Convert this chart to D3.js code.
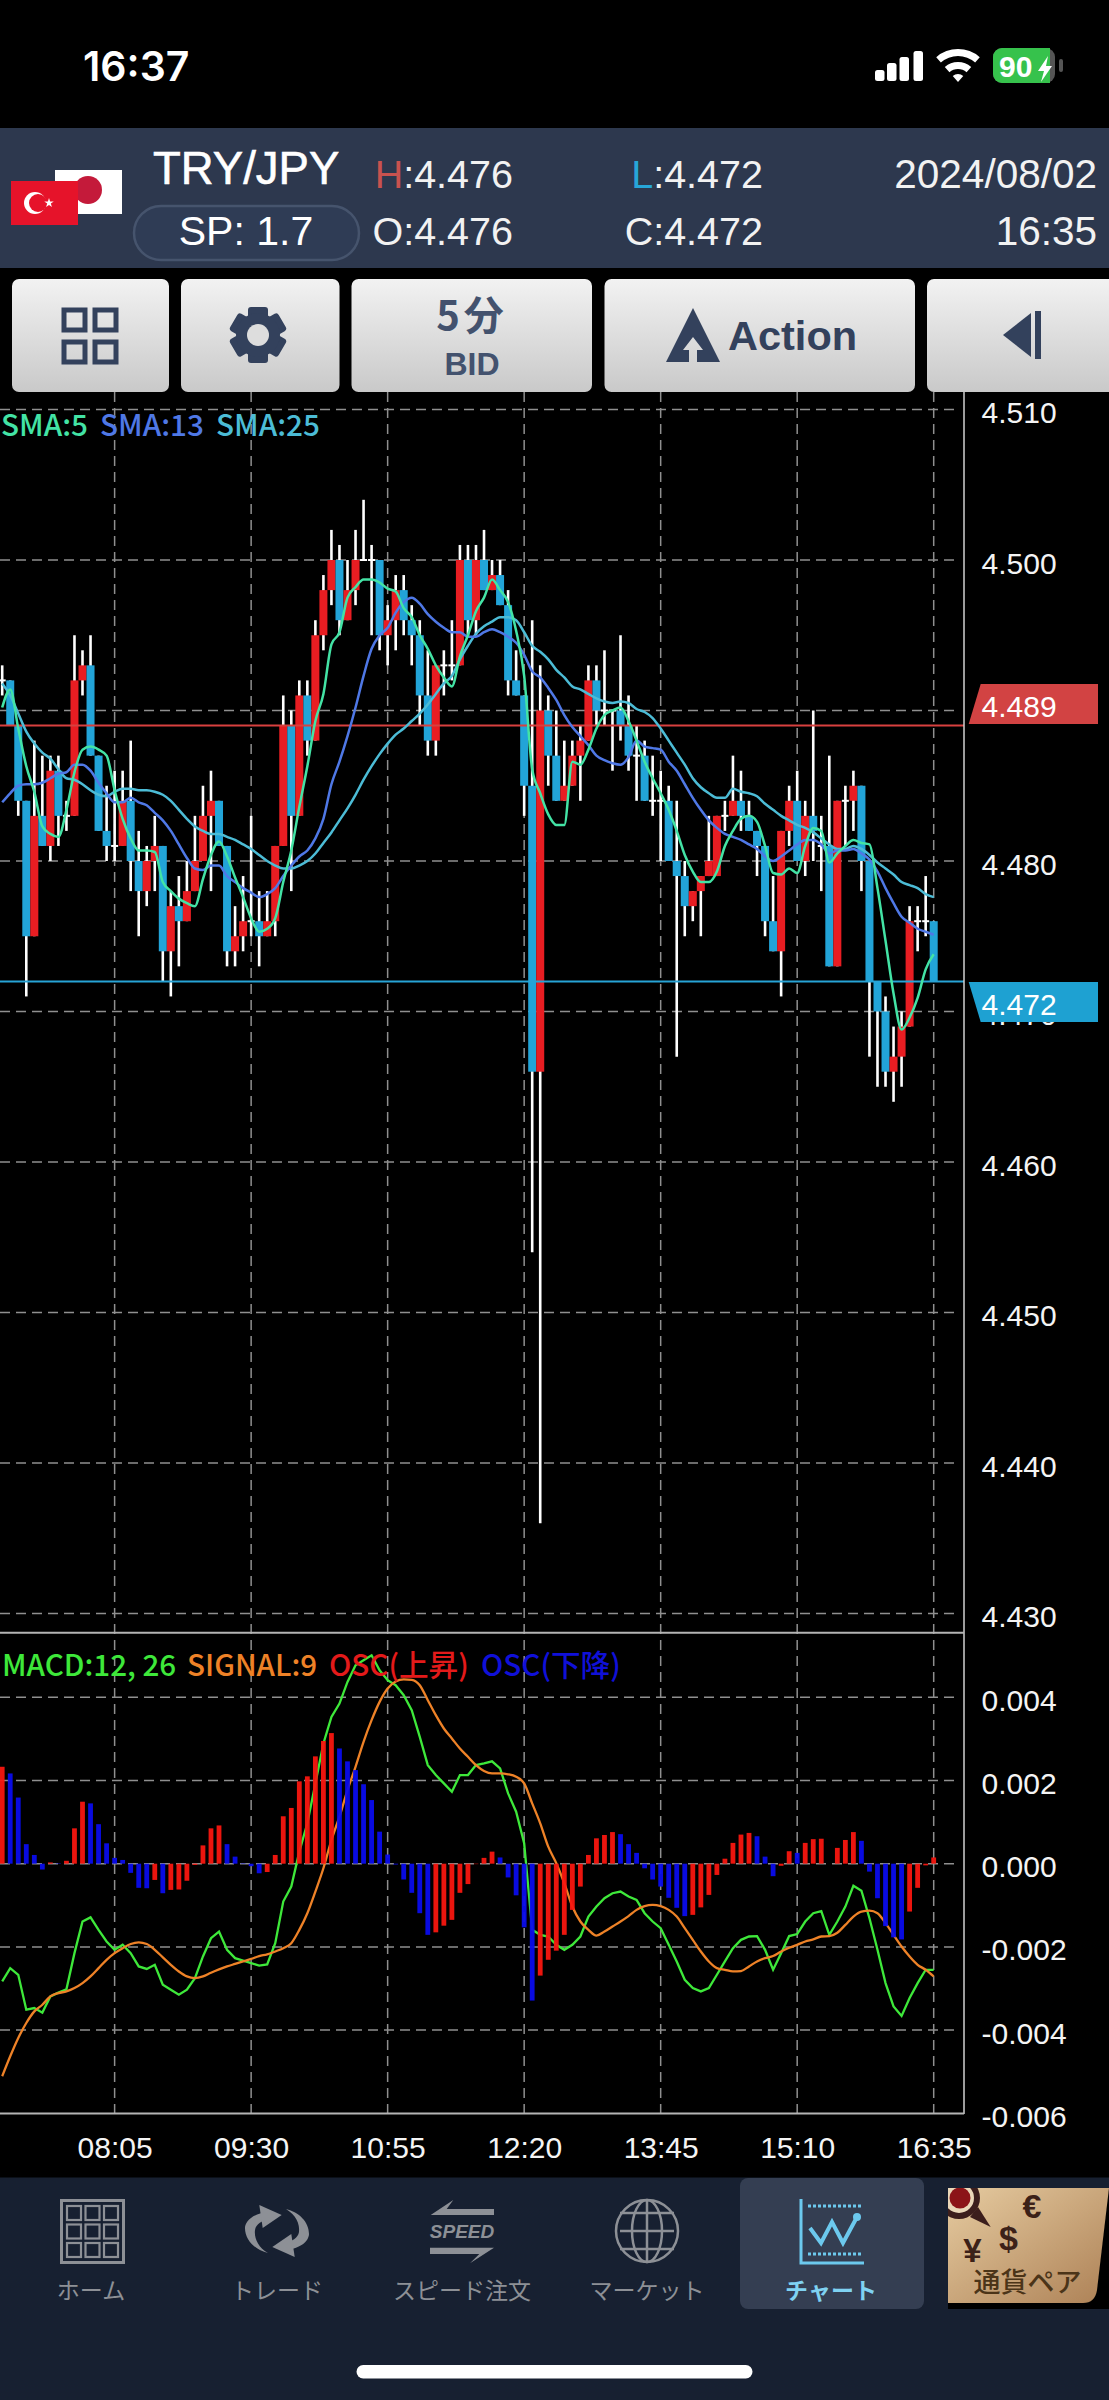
<!DOCTYPE html>
<html>
<head>
<meta charset="utf-8">
<script src="https://cdn.jsdelivr.net/npm/d3@7"></script>
<style>
html, body { margin: 0; padding: 0; background: #000; }
svg { display: block; }
text { font-family: "Liberation Sans", Arial, sans-serif; }
.cjk { font-family: "Noto Sans CJK JP", sans-serif; }
</style>
</head>
<body>
<script>
// 5 minute candles, oldest first
const candleOpen = [
  4.492,4.492,4.489,4.484,4.475,4.483,4.481,4.486,4.483,4.483,
  4.492,4.493,4.487,4.482,4.481,4.481,4.484,4.480,4.478,4.480,
  4.481,4.474,4.477,4.476,4.478,4.480,4.483,4.484,4.481,4.474,
  4.475,4.476,4.476,4.475,4.476,4.481,4.489,4.483,4.491,4.488,
  4.495,4.498,4.500,4.496,4.498,4.500,4.500,4.500,4.495,4.496,
  4.498,4.496,4.495,4.491,4.488,4.493,4.493,4.493,4.500,4.496,
  4.500,4.498,4.499,4.497,4.492,4.491,4.485,4.466,4.490,4.487,
  4.484,4.485,4.487,4.488,4.492,4.490,4.490,4.490,4.489,4.487,
  4.487,4.484,4.484,4.484,4.480,4.479,4.477,4.478,4.479,4.479,
  4.483,4.483,4.484,4.483,4.482,4.481,4.476,4.474,4.482,4.484,
  4.480,4.483,4.481,4.481,4.473,4.484,4.484,4.485,4.480,4.472,
  4.470,4.466,4.467,4.469,4.476,4.476,4.476
];
const candleClose = [
  4.492,4.489,4.484,4.475,4.483,4.481,4.486,4.483,4.483,4.492,
  4.493,4.487,4.482,4.481,4.481,4.484,4.480,4.478,4.480,4.481,
  4.474,4.477,4.476,4.478,4.480,4.483,4.484,4.481,4.474,4.475,
  4.476,4.476,4.475,4.476,4.481,4.489,4.483,4.491,4.488,4.495,
  4.498,4.500,4.496,4.498,4.500,4.500,4.500,4.495,4.496,4.498,
  4.496,4.495,4.491,4.488,4.493,4.493,4.493,4.500,4.496,4.500,
  4.498,4.499,4.497,4.492,4.491,4.485,4.466,4.490,4.487,4.484,
  4.485,4.487,4.488,4.492,4.490,4.490,4.490,4.489,4.487,4.487,
  4.484,4.484,4.484,4.480,4.479,4.477,4.478,4.479,4.480,4.483,
  4.483,4.484,4.483,4.482,4.481,4.476,4.474,4.482,4.484,4.480,
  4.483,4.482,4.481,4.473,4.484,4.484,4.485,4.480,4.472,4.470,
  4.466,4.467,4.469,4.476,4.476,4.476,4.472
];
const candleHigh = [
  4.493,4.492,4.489,4.484,4.488,4.487,4.487,4.487,4.484,4.495,
  4.494,4.495,4.487,4.485,4.486,4.486,4.488,4.482,4.481,4.483,
  4.481,4.478,4.479,4.480,4.483,4.485,4.486,4.484,4.481,4.477,
  4.479,4.483,4.478,4.478,4.481,4.491,4.490,4.492,4.492,4.496,
  4.499,4.502,4.501,4.500,4.502,4.504,4.501,4.500,4.497,4.499,
  4.499,4.497,4.496,4.494,4.493,4.494,4.496,4.501,4.501,4.501,
  4.502,4.500,4.500,4.498,4.494,4.491,4.496,4.493,4.491,4.490,
  4.488,4.488,4.489,4.493,4.493,4.494,4.490,4.495,4.491,4.489,
  4.488,4.487,4.486,4.485,4.484,4.480,4.478,4.479,4.483,4.483,
  4.484,4.487,4.486,4.484,4.482,4.481,4.479,4.482,4.485,4.486,
  4.484,4.490,4.483,4.487,4.484,4.485,4.486,4.485,4.480,4.472,
  4.471,4.469,4.470,4.477,4.477,4.479,4.476
];
const candleLow = [
  4.491,4.489,4.483,4.471,4.475,4.481,4.480,4.481,4.482,4.483,
  4.491,4.487,4.482,4.480,4.480,4.481,4.478,4.475,4.477,4.478,
  4.472,4.471,4.473,4.476,4.478,4.480,4.478,4.481,4.473,4.473,
  4.474,4.475,4.473,4.475,4.475,4.481,4.478,4.483,4.487,4.488,
  4.494,4.497,4.495,4.496,4.497,4.500,4.495,4.494,4.493,4.494,
  4.495,4.493,4.489,4.487,4.487,4.491,4.492,4.493,4.495,4.495,
  4.498,4.498,4.497,4.491,4.491,4.483,4.454,4.436,4.485,4.484,
  4.484,4.485,4.484,4.488,4.489,4.489,4.486,4.488,4.486,4.484,
  4.484,4.483,4.480,4.480,4.467,4.475,4.476,4.475,4.479,4.479,
  4.482,4.483,4.482,4.482,4.479,4.475,4.474,4.471,4.481,4.480,
  4.479,4.480,4.478,4.473,4.473,4.481,4.482,4.478,4.467,4.465,
  4.465,4.464,4.465,4.469,4.474,4.475,4.472
];

const sma5 = [
  4.4902,4.4914,4.4888,4.4863,4.4846,4.4823,4.4818,4.4816,4.4834,4.4859,
  4.4874,4.4876,4.4874,4.4870,4.4847,4.4828,4.4815,4.4807,4.4807,4.4806,
  4.4786,4.4780,4.4775,4.4772,4.4770,4.4788,4.4804,4.4813,4.4803,4.4789,
  4.4776,4.4762,4.4753,4.4755,4.4762,4.4786,4.4807,4.4836,4.4863,4.4893,
  4.4911,4.4944,4.4952,4.4975,4.4982,4.4987,4.4987,4.4985,4.4981,4.4979,
  4.4968,4.4962,4.4950,4.4941,4.4930,4.4922,4.4916,4.4936,4.4950,4.4966,
  4.4975,4.4987,4.4980,4.4972,4.4953,4.4923,4.4861,4.4845,4.4831,4.4824,
  4.4824,4.4866,4.4864,4.4874,4.4888,4.4897,4.4900,4.4902,4.4893,4.4880,
  4.4866,4.4855,4.4845,4.4834,4.4820,4.4804,4.4793,4.4786,4.4786,4.4793,
  4.4810,4.4820,4.4828,4.4830,4.4826,4.4810,4.4792,4.4791,4.4795,4.4792,
  4.4810,4.4822,4.4820,4.4799,4.4805,4.4810,4.4814,4.4812,4.4811,4.4782,
  4.4747,4.4712,4.4688,4.4696,4.4709,4.4728,4.4738
];
const sma13 = [
  4.4839,4.4845,4.4850,4.4851,4.4851,4.4852,4.4855,4.4858,4.4859,4.4864,
  4.4864,4.4860,4.4852,4.4845,4.4839,4.4839,4.4842,4.4839,4.4837,4.4832,
  4.4827,4.4820,4.4811,4.4802,4.4795,4.4794,4.4797,4.4797,4.4790,4.4786,
  4.4782,4.4779,4.4776,4.4778,4.4782,4.4790,4.4797,4.4803,4.4807,4.4815,
  4.4828,4.4851,4.4866,4.4883,4.4902,4.4923,4.4941,4.4950,4.4955,4.4965,
  4.4972,4.4975,4.4971,4.4964,4.4959,4.4955,4.4952,4.4952,4.4949,4.4949,
  4.4952,4.4954,4.4952,4.4949,4.4945,4.4937,4.4926,4.4922,4.4915,4.4907,
  4.4897,4.4889,4.4883,4.4877,4.4870,4.4867,4.4865,4.4864,4.4869,4.4880,
  4.4876,4.4875,4.4874,4.4866,4.4860,4.4851,4.4842,4.4834,4.4827,4.4822,
  4.4818,4.4816,4.4814,4.4811,4.4808,4.4803,4.4800,4.4803,4.4807,4.4811,
  4.4814,4.4814,4.4811,4.4805,4.4807,4.4807,4.4808,4.4805,4.4801,4.4793,
  4.4782,4.4772,4.4763,4.4759,4.4755,4.4753,4.4751
];
const sma25 = [
  4.4918,4.4910,4.4898,4.4886,4.4878,4.4872,4.4868,4.4861,4.4855,4.4854,
  4.4851,4.4847,4.4844,4.4843,4.4846,4.4848,4.4848,4.4847,4.4847,4.4846,
  4.4844,4.4840,4.4834,4.4828,4.4823,4.4820,4.4818,4.4818,4.4816,4.4814,
  4.4811,4.4808,4.4804,4.4800,4.4797,4.4795,4.4795,4.4797,4.4800,4.4805,
  4.4812,4.4819,4.4827,4.4835,4.4844,4.4854,4.4863,4.4871,4.4878,4.4884,
  4.4888,4.4893,4.4898,4.4904,4.4911,4.4918,4.4923,4.4934,4.4943,4.4951,
  4.4956,4.4959,4.4962,4.4962,4.4960,4.4952,4.4943,4.4939,4.4934,4.4927,
  4.4922,4.4916,4.4914,4.4911,4.4908,4.4906,4.4905,4.4906,4.4905,4.4901,
  4.4899,4.4895,4.4888,4.4880,4.4872,4.4864,4.4855,4.4849,4.4845,4.4842,
  4.4842,4.4848,4.4846,4.4845,4.4843,4.4838,4.4834,4.4830,4.4827,4.4824,
  4.4822,4.4819,4.4815,4.4811,4.4808,4.4808,4.4810,4.4808,4.4804,4.4799,
  4.4795,4.4791,4.4786,4.4784,4.4782,4.4778,4.4776
];

const macdLine = [
  -0.00283,-0.00251,-0.00267,-0.00351,-0.00347,-0.00358,-0.00319,-0.00310,-0.00302,-0.00215,
  -0.00139,-0.00129,-0.00159,-0.00187,-0.00207,-0.00195,-0.00215,-0.00247,-0.00253,-0.00243,
  -0.00291,-0.00303,-0.00315,-0.00303,-0.00275,-0.00223,-0.00179,-0.00163,-0.00207,-0.00227,
  -0.00233,-0.00239,-0.00245,-0.00242,-0.00191,-0.00091,-0.00055,0.00029,0.00097,0.00193,
  0.00289,0.00353,0.00385,0.00437,0.00477,0.00489,0.00501,0.00465,0.00441,0.00429,
  0.00405,0.00369,0.00305,0.00237,0.00213,0.00193,0.00173,0.00213,0.00213,0.00237,
  0.00241,0.00246,0.00229,0.00169,0.00125,0.00049,-0.00159,-0.00171,-0.00175,-0.00195,
  -0.00207,-0.00195,-0.00175,-0.00127,-0.00103,-0.00083,-0.00071,-0.00067,-0.00079,-0.00087,
  -0.00119,-0.00139,-0.00155,-0.00195,-0.00235,-0.00279,-0.00299,-0.00307,-0.00299,-0.00267,
  -0.00235,-0.00203,-0.00183,-0.00175,-0.00174,-0.00207,-0.00255,-0.00215,-0.00174,-0.00169,
  -0.00139,-0.00119,-0.00114,-0.00171,-0.00139,-0.00103,-0.00053,-0.00065,-0.00131,-0.00207,
  -0.00287,-0.00343,-0.00366,-0.00323,-0.00287,-0.00255,-0.00255
];
const signalLine = [
  -0.00511,-0.00463,-0.00419,-0.00383,-0.00355,-0.00339,-0.00319,-0.00311,-0.00307,-0.00299,
  -0.00287,-0.00271,-0.00251,-0.00231,-0.00215,-0.00203,-0.00193,-0.00189,-0.00193,-0.00207,
  -0.00225,-0.00243,-0.00259,-0.00271,-0.00275,-0.00271,-0.00262,-0.00254,-0.00247,-0.00241,
  -0.00235,-0.00229,-0.00222,-0.00218,-0.00211,-0.00203,-0.00191,-0.00159,-0.00119,-0.00067,
  -0.00011,0.00057,0.00113,0.00177,0.00233,0.00293,0.00345,0.00389,0.00421,0.00438,
  0.00443,0.00442,0.00429,0.00393,0.00357,0.00325,0.00301,0.00277,0.00257,0.00237,
  0.00223,0.00217,0.00217,0.00215,0.00209,0.00193,0.00145,0.00097,0.00041,0.00001,
  -0.00047,-0.00103,-0.00139,-0.00159,-0.00173,-0.00163,-0.00151,-0.00139,-0.00126,-0.00111,
  -0.00102,-0.00099,-0.00102,-0.00111,-0.00127,-0.00155,-0.00183,-0.00211,-0.00235,-0.00251,
  -0.00255,-0.00259,-0.00258,-0.00247,-0.00235,-0.00227,-0.00222,-0.00211,-0.00202,-0.00195,
  -0.00187,-0.00182,-0.00175,-0.00174,-0.00166,-0.00147,-0.00127,-0.00115,-0.00113,-0.00119,
  -0.00143,-0.00171,-0.00199,-0.00223,-0.00243,-0.00255,-0.00271
];
const oscValues = [
  0.00233,0.00217,0.00159,0.00047,0.00021,-0.00014,0.00003,0.00001,0.00007,0.00085,
  0.00149,0.00145,0.00095,0.00049,0.00014,0.00009,-0.00022,-0.00058,-0.00059,-0.00039,
  -0.00071,-0.00063,-0.00062,-0.00041,-0.00003,0.00044,0.00085,0.00092,0.00047,0.00017,
  0.00001,-0.00006,-0.00023,-0.00020,0.00021,0.00114,0.00134,0.00198,0.00210,0.00258,
  0.00295,0.00314,0.00277,0.00246,0.00225,0.00191,0.00153,0.00077,0.00022,-0.00002,
  -0.00038,-0.00070,-0.00119,-0.00171,-0.00165,-0.00149,-0.00135,-0.00070,-0.00049,-0.00001,
  0.00014,0.00029,0.00015,-0.00033,-0.00076,-0.00153,-0.00329,-0.00269,-0.00231,-0.00209,
  -0.00171,-0.00111,-0.00055,0.00021,0.00061,0.00069,0.00076,0.00071,0.00047,0.00026,
  -0.00011,-0.00038,-0.00055,-0.00082,-0.00106,-0.00126,-0.00123,-0.00105,-0.00075,-0.00027,
  0.00012,0.00050,0.00070,0.00074,0.00066,0.00017,-0.00030,-0.00005,0.00030,0.00026,
  0.00050,0.00059,0.00060,0.00000,0.00038,0.00057,0.00076,0.00055,-0.00019,-0.00083,
  -0.00150,-0.00177,-0.00182,-0.00115,-0.00058,-0.00004,0.00015
];

const priceTicks = [4.51, 4.50, 4.49, 4.48, 4.47, 4.46, 4.45, 4.44, 4.43];
const macdTicks = [0.004, 0.002, 0, -0.002, -0.004, -0.006];
const timeIndex = [14, 31, 48, 65, 82, 99, 116];
const timeLabels = ["08:05", "09:30", "10:55", "12:20", "13:45", "15:10", "16:35"];
const lastHigh = 4.489, lastLow = 4.472;

const candleRed = "#e81d22", candleBlue = "#22a4d8";
const sma5Color = "#43e3a5", sma13Color = "#4f78e6", sma25Color = "#4cbcd6";
const macdColor = "#3ee83a", signalColor = "#ee8227";
const oscRed = "#f8160f", oscBlue = "#0a0cec";

const width = 1109, height = 2400;
const plotRight = 964;
const fmt3 = d => d3.format(".3f")(d).replace("−", "-");

let svg = d3.select("body").append("svg")
  .attr("width", width).attr("height", height)
  .attr("viewBox", [0, 0, width, height]);
svg.append("rect").attr("width", width).attr("height", height).attr("fill", "#000");

let x = d3.scaleLinear().domain([0, 116]).range([2.2, 933.7]);
let y = d3.scaleLinear().domain([4.50, 4.48]).range([560, 861]);
let yMacd = d3.scaleLinear().domain([0.004, -0.006]).range([1697.3, 2113.3]);

// ---- grid
let grid = svg.append("g").attr("stroke", "#8f8f8f").attr("stroke-width", 1.5).attr("stroke-dasharray", "10 6");
grid.selectAll(".gv").data(timeIndex).join("line")
  .attr("x1", d => x(d)).attr("x2", d => x(d)).attr("y1", 392).attr("y2", 2113);
grid.selectAll(".gp").data(priceTicks).join("line")
  .attr("x1", 0).attr("x2", 957).attr("y1", d => y(d)).attr("y2", d => y(d));
grid.selectAll(".gm").data(macdTicks.filter(d => d > -0.006)).join("line")
  .attr("x1", 0).attr("x2", 957).attr("y1", d => yMacd(d)).attr("y2", d => yMacd(d));

// ---- candles
let idx = d3.range(candleOpen.length);
let candles = svg.append("g");
candles.selectAll(".wick").data(idx).join("line")
  .attr("x1", i => x(i)).attr("x2", i => x(i))
  .attr("y1", i => y(candleHigh[i])).attr("y2", i => y(candleLow[i]))
  .attr("stroke", "#fff").attr("stroke-width", 2.6);
candles.selectAll(".body").data(idx.filter(i => candleOpen[i] !== candleClose[i])).join("rect")
  .attr("x", i => x(i) - 4).attr("width", 8)
  .attr("y", i => y(Math.max(candleOpen[i], candleClose[i])))
  .attr("height", i => Math.abs(y(candleOpen[i]) - y(candleClose[i])))
  .attr("fill", i => candleClose[i] > candleOpen[i] ? candleRed : candleBlue);
candles.selectAll(".doji").data(idx.filter(i => candleOpen[i] === candleClose[i])).join("line")
  .attr("x1", i => x(i) - 3.5).attr("x2", i => x(i) + 3.5)
  .attr("y1", i => y(candleOpen[i])).attr("y2", i => y(candleOpen[i]))
  .attr("stroke", "#fff").attr("stroke-width", 2);

// ---- high / low lines
svg.append("line").attr("x1", 0).attr("x2", plotRight).attr("y1", y(lastHigh)).attr("y2", y(lastHigh))
  .attr("stroke", "#d8403f").attr("stroke-width", 2);
svg.append("line").attr("x1", 0).attr("x2", plotRight).attr("y1", y(lastLow)).attr("y2", y(lastLow))
  .attr("stroke", "#27a3d6").attr("stroke-width", 2);

// ---- moving averages
let smaLine = d3.line().x((d, i) => x(i)).y(d => y(d)).curve(d3.curveMonotoneX);
[[sma25, sma25Color], [sma13, sma13Color], [sma5, sma5Color]].forEach(([s, c]) => {
  svg.append("path").attr("d", smaLine(s)).attr("fill", "none").attr("stroke", c).attr("stroke-width", 2.5);
});

// ---- macd
let macdPath = d3.line().x((d, i) => x(i)).y(d => yMacd(d));
svg.append("path").attr("d", macdPath(macdLine)).attr("fill", "none").attr("stroke", macdColor).attr("stroke-width", 2.3);
svg.append("path").attr("d", macdPath.curve(d3.curveMonotoneX)(signalLine)).attr("fill", "none").attr("stroke", signalColor).attr("stroke-width", 2.3);
svg.selectAll(".osc").data(oscValues).join("rect")
  .attr("x", (d, i) => x(i) - 2.4).attr("width", 4.8)
  .attr("y", d => yMacd(Math.max(d, 0)))
  .attr("height", d => Math.abs(yMacd(d) - yMacd(0)))
  .attr("fill", (d, i) => (i === 0 || d > oscValues[i - 1]) ? oscRed : oscBlue)
  .attr("fill-opacity", 0.95);

// ---- frame
svg.append("line").attr("x1", plotRight).attr("x2", plotRight).attr("y1", 392).attr("y2", 2114)
  .attr("stroke", "#d0d0d0").attr("stroke-width", 1.5);
svg.append("line").attr("x1", 0).attr("x2", plotRight).attr("y1", 1632.7).attr("y2", 1632.7)
  .attr("stroke", "#b4b4b4").attr("stroke-width", 2);
svg.append("line").attr("x1", 0).attr("x2", plotRight).attr("y1", 2113.4).attr("y2", 2113.4)
  .attr("stroke", "#b4b4b4").attr("stroke-width", 2);

// ---- axes
function styleAxis(g, dy) {
  g.select(".domain").remove();
  g.selectAll(".tick line").remove();
  g.selectAll(".tick text").attr("fill", "#f4f4f4").attr("font-family", '"Liberation Sans"')
    .attr("font-size", 30).attr("dy", null).attr("y", dy);
}
svg.append("g").attr("transform", "translate(981.5,0)")
  .call(d3.axisRight(y).tickValues(priceTicks).tickFormat(fmt3).tickSize(0).tickPadding(0))
  .call(g => styleAxis(g, 13));
svg.append("g").attr("transform", "translate(981.5,0)")
  .call(d3.axisRight(yMacd).tickValues(macdTicks).tickFormat(fmt3).tickSize(0).tickPadding(0))
  .call(g => styleAxis(g, 13));
svg.append("g").attr("transform", "translate(0,2113)")
  .call(d3.axisBottom(x).tickValues(timeIndex).tickFormat((d, i) => timeLabels[i]).tickSize(0))
  .call(g => styleAxis(g, 45));

// ---- price tags
function tag(points, fill, label, base) {
  svg.append("polygon").attr("points", points).attr("fill", fill);
  svg.append("text").attr("x", 981.5).attr("y", base).attr("font-size", 30).attr("fill", "#fff").text(label);
}
tag("980.7,684 1098,684 1098,724 968.7,724", "#d24343", fmt3(lastHigh), 716.5);
tag("968.7,982 1098,982 1098,1022 980.7,1022", "#1ea1d2", fmt3(lastLow), 1014.5);

// ---- legends
function legend(items, base, size, w) {
  items.forEach(([label, px, c]) => {
    svg.append("text").attr("class", "cjk").attr("x", px).attr("y", base)
      .attr("font-size", size).attr("font-weight", w).attr("fill", c).text(label);
  });
}
legend([["SMA:5", 1, sma5Color], ["SMA:13", 100, sma13Color], ["SMA:25", 216, sma25Color]], 435.5, 29.7, 500);
legend([["MACD:12, 26", 2, macdColor], ["SIGNAL:9", 187, signalColor], ["OSC(上昇)", 329, "#e41a1a"], ["OSC(下降)", 481, "#1010d8"]], 1676, 29.6, 500);

// ---- status bar
svg.append("text").attr("x", 83).attr("y", 81).attr("font-size", 41).attr("font-weight", 600)
  .style("font-family", "Inter").attr("fill", "#fff").text("16:37");
[[875, 11], [887, 18], [899.5, 24], [913.5, 30]].forEach(([bx, bh]) => {
  svg.append("rect").attr("x", bx).attr("y", 81 - bh).attr("width", 9.5).attr("height", bh).attr("rx", 2.5).attr("fill", "#fff");
});
[[26, 33], [13, 20], [0, 8]].forEach(([r0, r1]) => {
  svg.append("path").attr("transform", "translate(958,82)")
    .attr("d", d3.arc()({ innerRadius: r0, outerRadius: r1, startAngle: -0.72, endAngle: 0.72 })).attr("fill", "#fff");
});
svg.append("rect").attr("x", 993).attr("y", 48).attr("width", 62).attr("height", 35).attr("rx", 9).attr("fill", "#555");
svg.append("path").attr("d", "M1050,48H1002a9,9 0 0 0 -9,9V74a9,9 0 0 0 9,9H1050Z").attr("fill", "#36c24c");
svg.append("rect").attr("x", 1059).attr("y", 59).attr("width", 4).attr("height", 13).attr("rx", 2).attr("fill", "#555");
svg.append("text").attr("x", 999).attr("y", 77).attr("font-size", 30).attr("font-weight", 700).attr("fill", "#fff").text("90");
svg.append("polygon").attr("points", "1048,56 1038,71 1044,71 1041,82 1052,66 1046,66").attr("fill", "#fff");

// ---- header
svg.append("rect").attr("y", 128).attr("width", width).attr("height", 140).attr("fill", "#2d384e");
svg.append("rect").attr("x", 55).attr("y", 170).attr("width", 67).attr("height", 44).attr("fill", "#fff");
svg.append("circle").attr("cx", 88).attr("cy", 190).attr("r", 14).attr("fill", "#c41a3a");
svg.append("rect").attr("x", 11).attr("y", 181).attr("width", 67).attr("height", 44).attr("fill", "#e6132a");
svg.append("circle").attr("cx", 35).attr("cy", 203).attr("r", 11).attr("fill", "#fff");
svg.append("circle").attr("cx", 38).attr("cy", 203).attr("r", 9).attr("fill", "#e6132a");
svg.append("path").attr("transform", "translate(49,203)").attr("d", d3.symbol(d3.symbolStar, 28)()).attr("fill", "#fff");

svg.append("text").attr("x", 153).attr("y", 184).attr("font-size", 45.5).attr("fill", "#fff")
  .attr("stroke", "#fff").attr("stroke-width", 0.6).text("TRY/JPY");
svg.append("rect").attr("x", 134).attr("y", 206).attr("width", 225).attr("height", 54).attr("rx", 27)
  .attr("fill", "#2f3c55").attr("stroke", "#46546d").attr("stroke-width", 2.5);
svg.append("text").attr("x", 246).attr("y", 245).attr("text-anchor", "middle").attr("font-size", 41).attr("fill", "#fff").text("SP: 1.7");

function ohlc(key, keyColor, val, xEnd, base) {
  let t = svg.append("text").attr("x", xEnd).attr("y", base).attr("text-anchor", "end").attr("font-size", 39.5).attr("fill", "#f2f2f2");
  t.append("tspan").attr("fill", keyColor).text(key);
  t.append("tspan").text(":" + val);
}
ohlc("H", "#c9524f", "4.476", 513, 188);
ohlc("O", "#f2f2f2", "4.476", 513, 245);
ohlc("L", "#27a6d8", "4.472", 763, 188);
ohlc("C", "#f2f2f2", "4.472", 763, 245);
svg.append("text").attr("x", 1097).attr("y", 188).attr("text-anchor", "end").attr("font-size", 40.5).attr("fill", "#f2f2f2").text("2024/08/02");
svg.append("text").attr("x", 1097).attr("y", 245).attr("text-anchor", "end").attr("font-size", 40.5).attr("fill", "#f2f2f2").text("16:35");

// ---- toolbar
let defs = svg.append("defs");
let btnGrad = defs.append("linearGradient").attr("id", "btn").attr("x1", 0).attr("x2", 0).attr("y1", 0).attr("y2", 1);
btnGrad.append("stop").attr("offset", "0").attr("stop-color", "#f2f2f2");
btnGrad.append("stop").attr("offset", "1").attr("stop-color", "#c9c9c9");
const iconColor = "#33415c";
[[12, 157], [181, 158.5], [351.5, 240.5], [604.5, 310.5], [927, 200]].forEach(([bx, bw]) => {
  svg.append("rect").attr("x", bx).attr("y", 279).attr("width", bw).attr("height", 113).attr("rx", 7).attr("fill", "url(#btn)");
});
[[62, 308], [93, 308], [62, 340], [93, 340]].forEach(([bx, by]) => {
  svg.append("rect").attr("x", bx + 2).attr("y", by + 2).attr("width", 21).attr("height", 20).attr("fill", "none")
    .attr("stroke", iconColor).attr("stroke-width", 5);
});
// gear with six teeth
d3.range(3).forEach(k => {
  svg.append("rect").attr("x", 248).attr("y", 307).attr("width", 20).attr("height", 56).attr("rx", 3)
    .attr("fill", iconColor).attr("transform", `rotate(${k * 60} 258 335)`);
});
svg.append("circle").attr("cx", 258).attr("cy", 335).attr("r", 22).attr("fill", iconColor);
svg.append("circle").attr("cx", 258).attr("cy", 335).attr("r", 11).attr("fill", "#ddd");
svg.append("text").attr("class", "cjk").attr("x", 472).attr("y", 330).attr("text-anchor", "middle")
  .attr("font-size", 40).attr("font-weight", 700).attr("letter-spacing", 4).attr("fill", "#43526e").text("5分");
svg.append("text").attr("x", 472).attr("y", 375).attr("text-anchor", "middle")
  .attr("font-size", 32).attr("font-weight", 700).attr("fill", "#43526e").text("BID");
svg.append("polygon").attr("points", "693,308 720,362 697,362 697,350 703,350 693,337 683,350 689,350 689,362 666,362").attr("fill", iconColor);
svg.append("text").attr("x", 728).attr("y", 350).attr("font-size", 41.5).attr("font-weight", 700).attr("fill", iconColor).text("Action");
svg.append("polygon").attr("points", "1003,335 1031,313 1031,357").attr("fill", iconColor);
svg.append("rect").attr("x", 1035).attr("y", 311).attr("width", 6).attr("height", 48).attr("fill", iconColor);

// ---- bottom navigation
svg.append("rect").attr("y", 2177.5).attr("width", width).attr("height", 222.5).attr("fill", "#172031");
svg.append("rect").attr("x", 740).attr("y", 2178).attr("width", 184).attr("height", 131).attr("rx", 8).attr("fill", "#343e52");
const navGrey = "#8d9096";
function navLabel(label, cx, c, w) {
  svg.append("text").attr("class", "cjk").attr("x", cx).attr("y", 2299).attr("text-anchor", "middle")
    .attr("font-size", 23).attr("font-weight", w || 400).attr("fill", c).text(label);
}
navLabel("ホーム", 91, navGrey);
navLabel("トレード", 277, navGrey);
navLabel("スピード注文", 462, navGrey);
navLabel("マーケット", 647, navGrey);
navLabel("チャート", 831, "#7fd2f2", 700);

// home icon
svg.append("rect").attr("x", 61.5).attr("y", 2200.5).attr("width", 62).attr("height", 62).attr("fill", "none").attr("stroke", navGrey).attr("stroke-width", 3);
d3.range(3).forEach(r => d3.range(3).forEach(c => {
  svg.append("rect").attr("x", 67 + c * 18.5).attr("y", 2206 + r * 18.5).attr("width", 14).attr("height", 14)
    .attr("fill", "none").attr("stroke", navGrey).attr("stroke-width", 2.2);
}));
// trade icon, one crescent arrow and the same turned half way round
[0, 180].forEach(rot => {
  let g = svg.append("g").attr("transform", `rotate(${rot} 277 2231)`).attr("fill", navGrey);
  g.append("path").attr("d", "M270,2212C252,2213 245,2222 245,2228C245,2240 255,2250 268,2253C258,2247 254,2238 255,2230C256,2224 262,2220 270,2220Z");
  g.append("polygon").attr("points", "259.3,2205 281.7,2215 262.7,2228");
});
// speed icon
svg.append("polygon").attr("points", "453.3,2200 430.7,2215 494,2215 494,2209 446.7,2209").attr("fill", navGrey);
svg.append("polygon").attr("points", "430,2247.7 494,2247.7 470,2263.3 479.3,2254 430,2254").attr("fill", navGrey);
svg.append("text").attr("x", 462).attr("y", 2238).attr("text-anchor", "middle").attr("font-size", 19)
  .attr("font-weight", 700).attr("font-style", "italic").attr("fill", navGrey).text("SPEED");
// market icon
svg.append("circle").attr("cx", 647).attr("cy", 2231).attr("r", 31).attr("fill", "none").attr("stroke", navGrey).attr("stroke-width", 2.5);
svg.append("ellipse").attr("cx", 647).attr("cy", 2231).attr("rx", 15).attr("ry", 31).attr("fill", "none").attr("stroke", navGrey).attr("stroke-width", 2.5);
svg.append("line").attr("x1", 647).attr("x2", 647).attr("y1", 2200).attr("y2", 2262).attr("stroke", navGrey).attr("stroke-width", 2.5);
[2213, 2231, 2249].forEach(ly => {
  svg.append("line").attr("x1", 620).attr("x2", 674).attr("y1", ly).attr("y2", ly).attr("stroke", navGrey).attr("stroke-width", 2.5);
});
// chart icon
const navBlue = "#6cc9ee";
svg.append("path").attr("d", "M801,2199V2263H864").attr("fill", "none").attr("stroke", navBlue).attr("stroke-width", 3);
[2206, 2254].forEach(ly => {
  svg.append("line").attr("x1", 808).attr("x2", 862).attr("y1", ly).attr("y2", ly).attr("stroke", navBlue)
    .attr("stroke-width", 3).attr("stroke-dasharray", "3 2");
});
svg.append("path").attr("d", "M810,2228L821,2243L832,2222L843,2243L857,2217").attr("fill", "none").attr("stroke", navBlue).attr("stroke-width", 4);
svg.append("circle").attr("cx", 857).attr("cy", 2217).attr("r", 4).attr("fill", navBlue);
// currency pair banner
svg.append("rect").attr("x", 948).attr("y", 2188).attr("width", 161).attr("height", 121).attr("fill", "#000");
let tan = defs.append("linearGradient").attr("id", "tan").attr("x1", 0).attr("x2", 1).attr("y1", 0).attr("y2", 1);
tan.append("stop").attr("offset", "0").attr("stop-color", "#e6cba0");
tan.append("stop").attr("offset", "1").attr("stop-color", "#ad8156");
const bannerShape = "M948,2188H1109L1097,2290Q1095,2303 1083,2303H948Z";
defs.append("clipPath").attr("id", "banner").append("path").attr("d", bannerShape);
svg.append("path").attr("d", bannerShape).attr("fill", "url(#tan)");
let lens = svg.append("g").attr("clip-path", "url(#banner)");
lens.append("polygon").attr("points", "970,2217 978,2207 990.7,2227").attr("fill", "#3c1e1c");
lens.append("circle").attr("cx", 959).attr("cy", 2198).attr("r", 21).attr("fill", "#3c1e1c");
lens.append("circle").attr("cx", 959).attr("cy", 2198).attr("r", 15).attr("fill", "#ead7b8");
lens.append("circle").attr("cx", 960).attr("cy", 2198).attr("r", 10.5).attr("fill", "#8c1418");
[["€", 1032, 2218, 34], ["$", 1008.5, 2250, 34], ["¥", 972.5, 2262, 33]].forEach(([s, sx, sy, fs]) => {
  svg.append("text").attr("x", sx).attr("y", sy).attr("text-anchor", "middle").attr("font-size", fs)
    .attr("font-weight", 700).attr("fill", "#3c2118").text(s);
});
svg.append("text").attr("class", "cjk").attr("x", 1027.5).attr("y", 2292).attr("text-anchor", "middle")
  .attr("font-size", 27).attr("font-weight", 500).attr("fill", "#4b3418").text("通貨ペア");
// home indicator
svg.append("rect").attr("x", 356.5).attr("y", 2365).attr("width", 396).attr("height", 13.5).attr("rx", 6.7).attr("fill", "#fff");
</script>
</body>
</html>
